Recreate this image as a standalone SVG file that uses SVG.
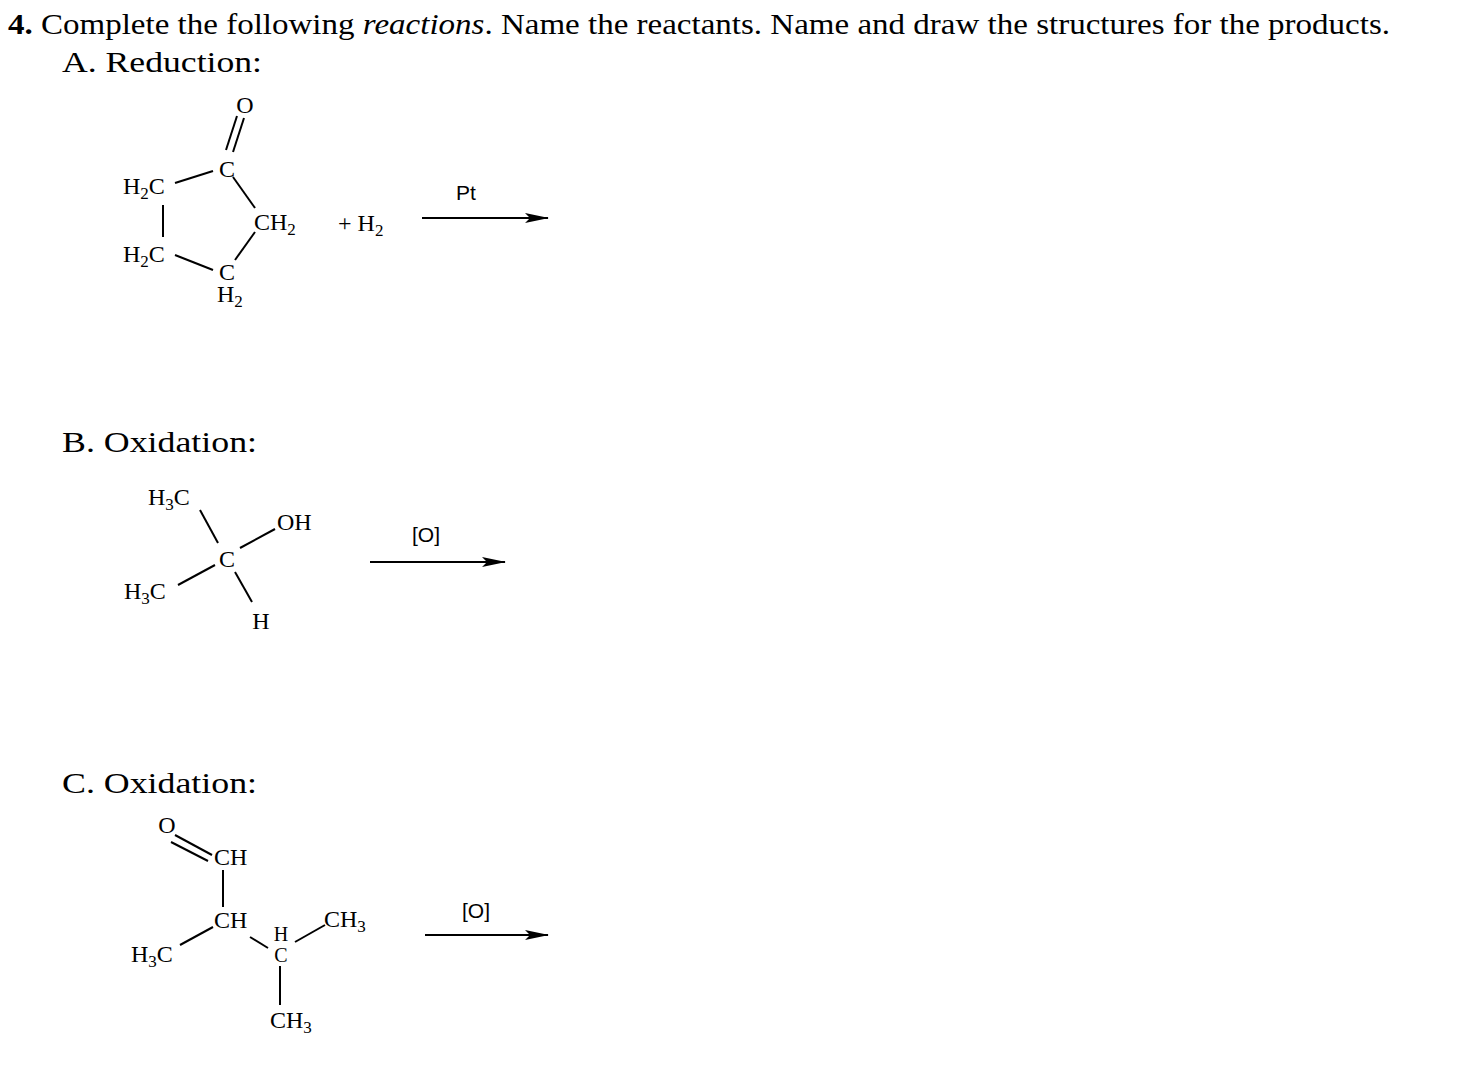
<svg xmlns="http://www.w3.org/2000/svg" width="1460" height="1070" viewBox="0 0 1460 1070">
<style>
text{font-family:"Liberation Serif","Times New Roman",serif;fill:#000}
.t{font-size:30px}.h{font-size:29px}.m{font-size:24px}
.b line{stroke:#000;stroke-width:2}
.sub{font-size:17px}
.r{font-family:"Liberation Sans",Arial,sans-serif;font-size:21px}
</style>
<defs><marker id="ah" markerWidth="24" markerHeight="10" refX="23" refY="5" orient="auto" markerUnits="userSpaceOnUse"><path d="M0,0 L24,5 L0,10 L5,5 Z" fill="#000"/></marker></defs>
<rect width="1460" height="1070" fill="#fff"/>
<text class="t" x="8" y="34" textLength="1382" lengthAdjust="spacingAndGlyphs"><tspan font-weight="bold">4.</tspan> Complete the following <tspan font-style="italic">reactions</tspan>. Name the reactants. Name and draw the structures for the products.</text>
<text class="h" x="62" y="72" textLength="200" lengthAdjust="spacingAndGlyphs">A. Reduction:</text>
<text class="h" x="62" y="452" textLength="195" lengthAdjust="spacingAndGlyphs">B. Oxidation:</text>
<text class="h" x="62" y="793" textLength="195" lengthAdjust="spacingAndGlyphs">C. Oxidation:</text>
<g id="A">
<text class="m" x="245" y="113" text-anchor="middle">O</text>
<text class="m" x="227" y="177" text-anchor="middle">C</text>
<text class="m" x="123" y="194">H<tspan class="sub" dy="5">2</tspan><tspan dy="-5">C</tspan></text>
<text class="m" x="254" y="230">CH<tspan class="sub" dy="5">2</tspan></text>
<text class="m" x="338" y="231">+ H<tspan class="sub" dy="5">2</tspan></text>
<text class="m" x="123" y="262">H<tspan class="sub" dy="5">2</tspan><tspan dy="-5">C</tspan></text>
<text class="m" x="227" y="280" text-anchor="middle">C</text>
<text class="m" x="217" y="302">H<tspan class="sub" dy="5">2</tspan></text>
<g class="b">
<line x1="244" y1="118" x2="233" y2="152"/><line x1="237" y1="116" x2="226" y2="150"/>
<line x1="175" y1="183" x2="213" y2="171"/>
<line x1="233" y1="177" x2="255" y2="208"/>
<line x1="163" y1="205" x2="163" y2="237"/>
<line x1="175" y1="255" x2="213" y2="270"/>
<line x1="235" y1="260" x2="255" y2="232"/>
</g>
</g>
<g id="B">
<text class="m" x="148" y="505">H<tspan class="sub" dy="5">3</tspan><tspan dy="-5">C</tspan></text>
<text class="m" x="277" y="530">OH</text>
<text class="m" x="227" y="567" text-anchor="middle">C</text>
<text class="m" x="124" y="599">H<tspan class="sub" dy="5">3</tspan><tspan dy="-5">C</tspan></text>
<text class="m" x="261" y="629" text-anchor="middle">H</text>
<g class="b">
<line x1="200" y1="510" x2="218" y2="543"/>
<line x1="240" y1="548" x2="275" y2="529"/>
<line x1="178" y1="585" x2="215" y2="565"/>
<line x1="235" y1="572" x2="252" y2="602"/>
</g>
</g>
<g id="C">
<text class="m" x="167" y="833" text-anchor="middle">O</text>
<text class="m" x="214" y="865">CH</text>
<text class="m" x="214" y="928">CH</text>
<text class="m" x="131" y="962">H<tspan class="sub" dy="5">3</tspan><tspan dy="-5">C</tspan></text>
<text x="281" y="941" text-anchor="middle" style="font-size:20px">H</text>
<text x="281" y="962" text-anchor="middle" style="font-size:20px">C</text>
<text class="m" x="324" y="927">CH<tspan class="sub" dy="5">3</tspan></text>
<text class="m" x="270" y="1028">CH<tspan class="sub" dy="5">3</tspan></text>
<g class="b">
<line x1="175" y1="835" x2="212" y2="855"/><line x1="171" y1="842" x2="208" y2="861"/>
<line x1="223" y1="870" x2="223" y2="907"/>
<line x1="180" y1="945" x2="213" y2="927"/>
<line x1="250" y1="937" x2="268" y2="948"/>
<line x1="295" y1="942" x2="325" y2="925"/>
<line x1="280" y1="966" x2="280" y2="1005"/>
</g>
</g>
<g id="connectors">
<line x1="422" y1="218" x2="548" y2="218" stroke="#000" stroke-width="2" marker-end="url(#ah)"/>
<line x1="370" y1="562" x2="505" y2="562" stroke="#000" stroke-width="2" marker-end="url(#ah)"/>
<line x1="425" y1="935" x2="548" y2="935" stroke="#000" stroke-width="2" marker-end="url(#ah)"/>
</g>
<text class="r" x="466" y="200" text-anchor="middle">Pt</text>
<text class="r" x="426" y="542" text-anchor="middle">[O]</text>
<text class="r" x="476" y="918" text-anchor="middle">[O]</text>
</svg>
